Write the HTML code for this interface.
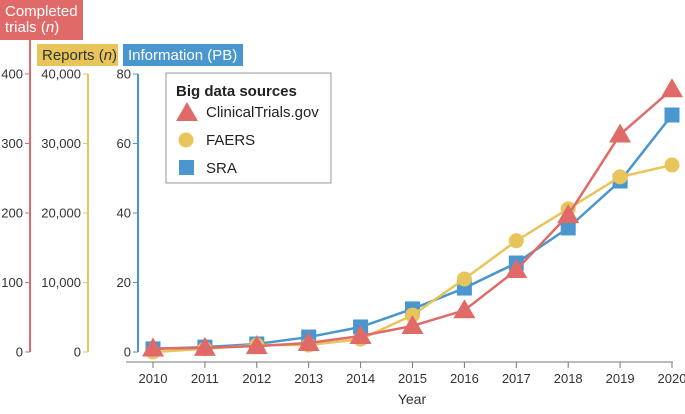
<!DOCTYPE html>
<html><head><meta charset="utf-8"><style>
body{margin:0;background:#fff;font-family:"Liberation Sans",sans-serif}
svg text{font-family:"Liberation Sans",sans-serif}
</style></head><body>
<svg id="c" width="685" height="409"></svg>
<script>
const years=[2010,2011,2012,2013,2014,2015,2016,2017,2018,2019,2020];
const trials=[5,6,8.5,13,23,37.5,60,118,197,313,378];
const reports=[0,450,1000,1000,1850,5300,10500,16000,20600,25200,26900];
const info=[0.9,1.4,2.3,4.3,7.2,12.4,18.4,25.6,35.7,49.2,68.2];
const ticksTrials=[0,100,200,300,400];
const ticksReports=[0,10000,20000,30000,40000];
const ticksInfo=[0,20,40,60,80];
const RED="#e06a68",YEL="#e8c55a",BLU="#4a97cf";
const svg=document.getElementById('c');const NS="http://www.w3.org/2000/svg";
function el(t,a,p){const e=document.createElementNS(NS,t);for(const k in a)e.setAttribute(k,a[k]);(p||svg).appendChild(e);return e;}
const x=y=>153+(y-2010)*51.9;
const yI=v=>352-v*3.475, yT=v=>352-v*0.695, yR=v=>352-v*0.00695;
function vaxis(ax,color,ticks,fmt,sc,top,name){
 const g=el('g',{});
 el('line',{x1:ax,y1:top,x2:ax,y2:352,stroke:color,'stroke-width':2},g);
 ticks.forEach(t=>{el('line',{x1:ax-5,y1:sc(t),x2:ax,y2:sc(t),stroke:color,'stroke-width':1},g);
  const tx=el('text',{x:ax-7,y:sc(t)+4.5,'text-anchor':'end','font-size':13,fill:'#333'},g);tx.textContent=fmt(t);});
}
vaxis(30,RED,ticksTrials,t=>t,yT,40,'trials-axis');
vaxis(88,YEL,ticksReports,t=>t.toLocaleString('en-US'),yR,74,'reports-axis');
vaxis(138,BLU,ticksInfo,t=>t,yI,74,'info-axis');
const xg=el('g',{});
el('line',{x1:126,y1:362,x2:673,y2:362,stroke:'#777','stroke-width':1},xg);
years.forEach(yr=>{el('line',{x1:x(yr),y1:362,x2:x(yr),y2:368,stroke:'#777'},xg);
 const t=el('text',{x:x(yr),y:383,'text-anchor':'middle','font-size':13,fill:'#333'},xg);t.textContent=yr;});
const xt=el('text',{x:412,y:404,'text-anchor':'middle','font-size':14,fill:'#333'});xt.textContent='Year';

function box(x0,y0,w,h,c,fs,lines,name){const g=el('g',{});
 el('rect',{x:x0,y:y0,width:w,height:h,fill:c},g);
 lines.forEach((l,i)=>{const t=el('text',{x:x0+5,y:y0+fs+1+i*(fs+1),'font-size':fs,fill:l[1]},g);t.innerHTML=l[0];});}
box(0,0,83,40,RED,15,[['Completed','#fff'],['trials (<tspan font-style="italic">n</tspan>)','#fff']],'trials-axis-title');
box(37,44,81,22,YEL,15,[['Reports (<tspan font-style="italic">n</tspan>)','#333']],'reports-axis-title');
box(123,44,120,22,BLU,15,[['Information (PB)','#fff']],'info-axis-title');
function tri(cx,cy,g,c){el('polygon',{points:`${cx},${cy-11} ${cx-11},${cy+8} ${cx+11},${cy+8}`,fill:c},g);}
function series(vals,sc,c,shape,name){const g=el('g',{});
 el('polyline',{points:vals.map((v,i)=>x(years[i])+','+sc(v)).join(' '),fill:'none',stroke:c,'stroke-width':2.5},g);
 vals.forEach((v,i)=>{const cx=x(years[i]),cy=sc(v);
  if(shape==='t')tri(cx,cy,g,c);else if(shape==='c')el('circle',{cx,cy,r:7.5,fill:c},g);else el('rect',{x:cx-7.5,y:cy-7.5,width:15,height:15,fill:c},g);});}
series(info,yI,BLU,'s','sra-series');
series(reports,yR,YEL,'c','faers-series');
series(trials,yT,RED,'t','clinicaltrials-series');
const lg=el('g',{});
el('rect',{x:166,y:73,width:165,height:110,fill:'#fff',stroke:'#999','stroke-width':1},lg);
let t=el('text',{x:176,y:96,'font-size':15,'font-weight':'bold',fill:'#222'},lg);t.textContent='Big data sources';
tri(187,113,lg,RED);el('circle',{cx:186,cy:140,r:7.5,fill:YEL},lg);el('rect',{x:179,y:160,width:15,height:15,fill:BLU},lg);
[['ClinicalTrials.gov',117],['FAERS',145],['SRA',173]].forEach(([s,yy])=>{const e=el('text',{x:206,y:yy,'font-size':15,fill:'#222'},lg);e.textContent=s;});
</script>
</body></html>
